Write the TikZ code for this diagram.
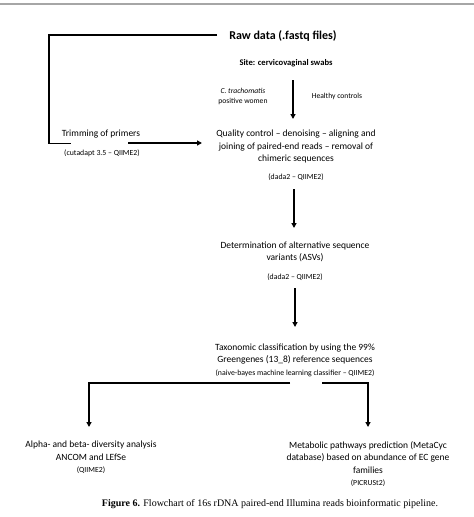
\documentclass[tikz,border=0pt]{standalone}
\usepackage{fontspec}
\setmainfont{Carlito}
\newfontfamily\capfont{Liberation Serif}
\usetikzlibrary{arrows.meta}
\begin{document}
\begin{tikzpicture}[x=1pt,y=-1pt,
  txt/.style={align=center,inner sep=0pt,font=\fontsize{9.5}{12.5}\selectfont},
  small/.style={inner sep=0pt,font=\fontsize{7.8}{9}\selectfont},
  conn/.style={line width=1.7pt},
  arr/.style={conn,-{Triangle[width=5pt,length=5pt]}},
]
\useasboundingbox (0,0) rectangle (474,517);
\draw[line width=1.5pt,gray!70] (0,4) -- (474,4);

% nodes
\node[inner sep=0pt,font=\fontsize{12}{14}\selectfont\bfseries] (raw) at (283,36) {Raw data (.fastq files)};
\node[inner sep=0pt,font=\fontsize{8.6}{10}\selectfont\bfseries] (site) at (286,63) {Site: cervicovaginal swabs};
\node[small,align=center,font=\fontsize{7.6}{10}\selectfont] (ctr) at (243,96) {\textit{C. trachomatis}\\positive women};
\node[small,font=\fontsize{7.6}{9}\selectfont] (healthy) at (337,96) {Healthy controls};
\node[txt] (trim) at (101,134) {Trimming of primers};
\node[small] (cut) at (102,153) {(cutadapt 3.5 -- QIIME2)};
\node[txt] (qc) at (296,146.5) {Quality control -- denoising -- aligning and\\joining of paired-end reads -- removal of\\chimeric sequences};
\node[small] (d1) at (296,177) {(dada2 -- QIIME2)};
\node[txt] (asv) at (295,252) {Determination of alternative sequence\\variants (ASVs)};
\node[small] (d2) at (295,277) {(dada2 -- QIIME2)};
\node[txt] (tax) at (295,354) {Taxonomic classification by using the 99\%\\Greengenes (13\_8) reference sequences};
\node[small] (nb) at (295,373) {(naive-bayes machine learning classifier -- QIIME2)};
\node[txt] (alpha) at (91,450.5) {Alpha- and beta- diversity analysis\\ANCOM and LEfSe};
\node[small] (q2) at (91,470) {(QIIME2)};
\node[txt] (meta) at (368,457.5) {Metabolic pathways prediction (MetaCyc\\database) based on abundance of EC gene\\families};
\node[small] (pic) at (368,483) {(PICRUSt2)};
\node[inner sep=0pt,font=\capfont\fontsize{10}{12}\selectfont] (cap) at (270,504) {\textbf{Figure 6.} Flowchart of 16s rDNA paired-end Illumina reads bioinformatic pipeline.};

% connector end points
\coordinate (rawL) at (217,35);
\coordinate (c1) at (49,35);
\coordinate (c2) at (49,143.5);
\coordinate (trimE) at (71,143.5);
\coordinate (a1s) at (293,80);
\coordinate (a1e) at (293,119);
\coordinate (tqs) at (128,143);
\coordinate (tqe) at (202,143);
\coordinate (a2s) at (294,189);
\coordinate (a2e) at (294,228);
\coordinate (a3s) at (295,288);
\coordinate (a3e) at (295,327);
\coordinate (bl0) at (290,383);
\coordinate (bl1) at (89,383);
\coordinate (bl2) at (89,427);
\coordinate (br0) at (322,383);
\coordinate (br1) at (368,383);
\coordinate (br2) at (368,427);

\draw[conn] (rawL) -- (c1) -- (c2) -- (trimE);
\draw[arr] (a1s) -- (a1e);
\draw[arr] (tqs) -- (tqe);
\draw[arr] (a2s) -- (a2e);
\draw[arr] (a3s) -- (a3e);
\draw[arr] (bl0) -- (bl1) -- (bl2);
\draw[arr] (br0) -- (br1) -- (br2);
\end{tikzpicture}
\end{document}
